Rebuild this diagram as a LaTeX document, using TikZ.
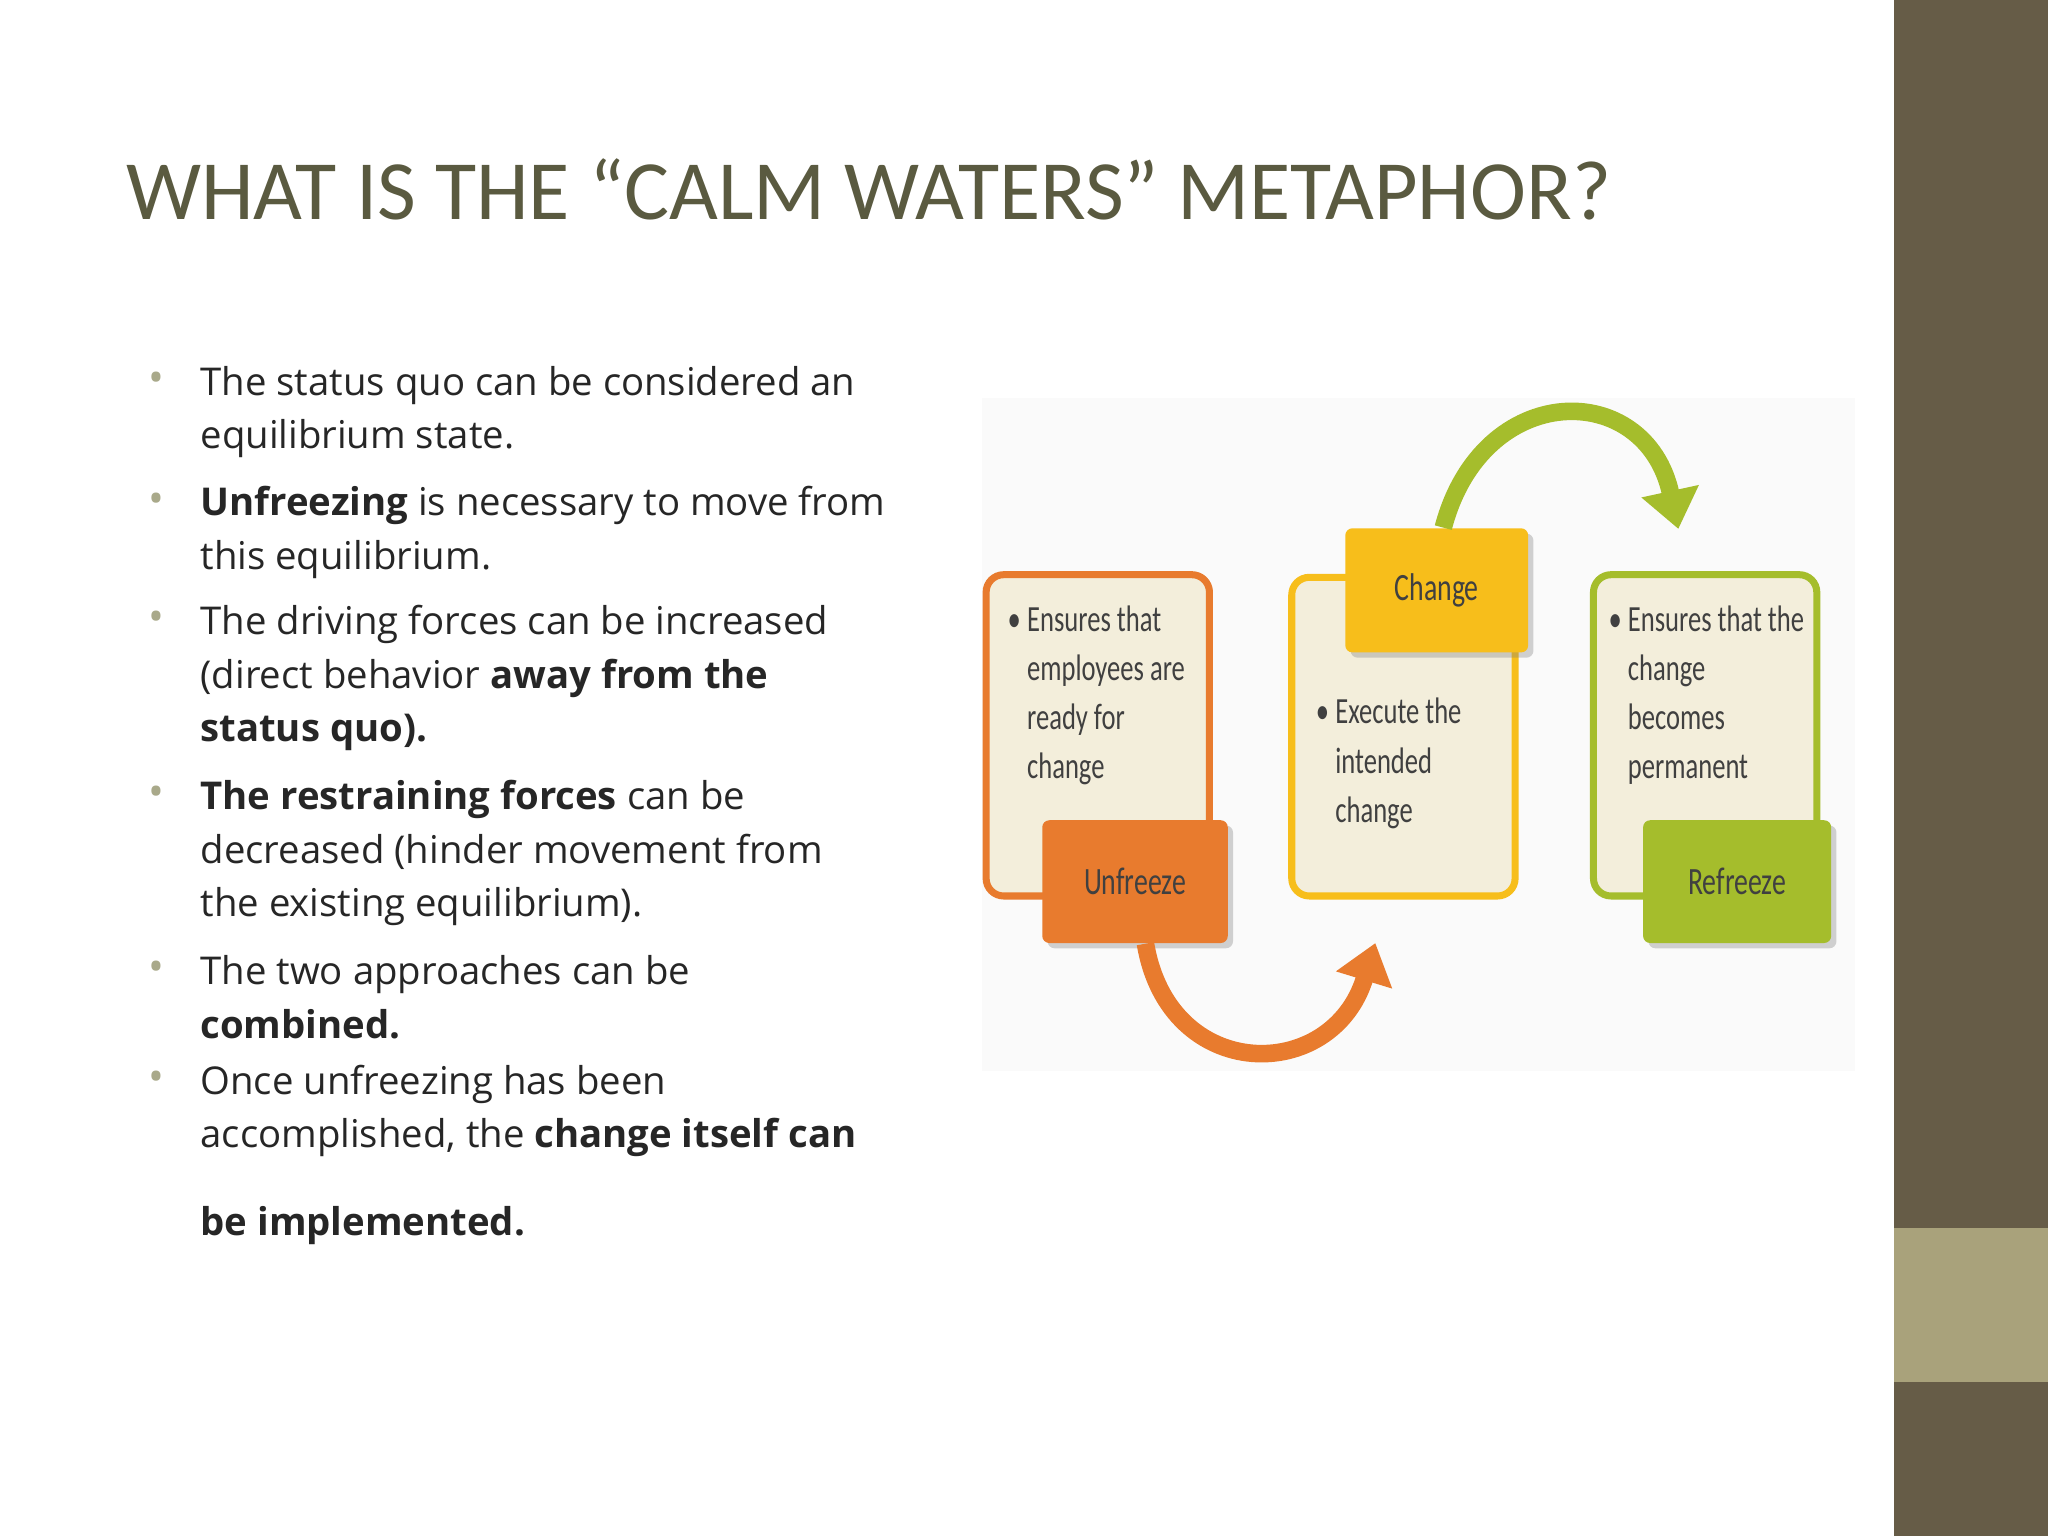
\documentclass[tikz,border=0pt]{standalone}
\usepackage{fontspec}
\setmainfont{Open Sans}
\newfontfamily\titlefont{Carlito}
\newfontfamily\diafont[FakeStretch=0.72]{Carlito}
\usetikzlibrary{arrows.meta,shadows}
\definecolor{olive}{HTML}{665C47}
\definecolor{lolive}{HTML}{A9A27B}
\definecolor{ttl}{HTML}{5A5A40}
\definecolor{bul}{HTML}{A9A98A}
\definecolor{cream}{HTML}{F3EEDB}
\definecolor{org}{HTML}{E87B2E}
\definecolor{yel}{HTML}{F7BE1B}
\definecolor{grn}{HTML}{A5BD2C}
\tikzset{
 outer/.style={draw=#1,line width=2pt,fill=cream,rounded corners=5pt},
 lab/.style={fill=#1,rounded corners=2pt,drop shadow={opacity=0.35,shadow xshift=1.5pt,shadow yshift=-1.5pt},font=\diafont\fontsize{11}{11}\selectfont,text=black!75,inner sep=0pt},
 bt/.style={anchor=north west,align=left,font=\fontsize{10.9}{15.2}\selectfont,text=black!85,inner sep=0pt},
 dt/.style={anchor=north west,align=left,font=\diafont\fontsize{10.5}{14}\selectfont,text=black!75,inner sep=0pt},
}
\begin{document}
\begin{tikzpicture}[x=0.01306cm,y=-0.01306cm]
\useasboundingbox (0,0) rectangle (1568,1176);
\fill[white] (0,0) rectangle (1568,1176);
\fill[olive] (1450,0) rectangle (1568,1176);
\fill[lolive] (1450,940) rectangle (1568,1058);
\node[anchor=west,inner sep=0pt,text=ttl,font=\titlefont\fontsize{24}{24}\selectfont] (title) at (96,145) {WHAT IS THE “CALM WATERS” METAPHOR?};
% bullets
\foreach \y in {293,385,476,610,744,828} \node[text=bul,font=\fontsize{12}{12}\selectfont,inner sep=0pt] at (120,\y) {•};
\node[bt] (b1) at (153,280) {The status quo can be considered an\\equilibrium state.};
\node[bt] (b2) at (153,372) {\textbf{Unfreezing} is necessary to move from\\this equilibrium.};
\node[bt] (b3) at (153,463) {The driving forces can be increased\\(direct behavior \textbf{away from the}\\\textbf{status quo).}};
\node[bt] (b4) at (153,597) {\textbf{The restraining forces} can be\\decreased (hinder movement from\\the existing equilibrium).};
\node[bt] (b5) at (153,731) {The two approaches can be\\\textbf{combined.}};
\node[bt] (b6) at (153,815) {Once unfreezing has been\\accomplished, the \textbf{change itself can}};
\node[bt] (b7) at (153,923) {\textbf{be implemented.}};
% diagram
\fill[black!2] (752,305) rectangle (1420,820);
\draw[outer=org] (755,440) rectangle (926,686);
\draw[outer=yel] (989,442) rectangle (1160,686);
\draw[outer=grn] (1220,440) rectangle (1391,686);
\node[lab=org,minimum width=142*0.01306cm,minimum height=94*0.01306cm] (unf) at (869,675) {Unfreeze};
\node[lab=yel,minimum width=140*0.01306cm,minimum height=95*0.01306cm] (chg) at (1100,452) {Change};
\node[lab=grn,minimum width=144*0.01306cm,minimum height=94*0.01306cm] (ref) at (1330,675) {Refreeze};
\node[dt] (t1) at (771,463) {•\,Ensures that\\\phantom{•\,}employees are\\\phantom{•\,}ready for\\\phantom{•\,}change};
\node[dt] (t2) at (1007,534) {•\,Execute the\\\phantom{•\,}intended\\\phantom{•\,}change};
\node[dt] (t3) at (1231,463) {•\,Ensures that the\\\phantom{•\,}change\\\phantom{•\,}becomes\\\phantom{•\,}permanent};
\draw[org,line width=5pt,-{Triangle[length=11pt,width=16pt]}] (unf.south) ++(8,0) .. controls (895,830) and (1020,830) .. (1053,722);
\draw[grn,line width=5pt,-{Triangle[length=11pt,width=16pt]}] (chg.north) ++(5,0) .. controls (1135,290) and (1260,290) .. (1285,405);
\end{tikzpicture}
\end{document}
